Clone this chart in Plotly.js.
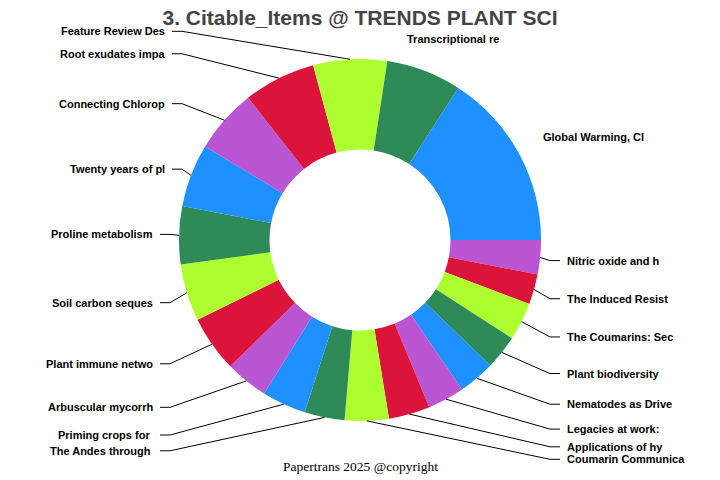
<!DOCTYPE html>
<html><head><meta charset="utf-8">
<script src="https://cdn.plot.ly/plotly-3.0.1.min.js"></script>
<style>html,body{margin:0;padding:0;background:#fff}#chart{width:720px;height:480px}</style>
</head><body><div id="chart"></div>
<script>
// ---- data ----
const titleText = "3. Citable_Items @ TRENDS PLANT SCI";
const footerText = "Papertrans 2025 @copyright";
const labels = ["Nitric oxide and h","The Induced Resist","The Coumarins: Sec","Plant biodiversity",
  "Nematodes as Drive","Legacies at work: ","Applications of hy","Coumarin Communica",
  "The Andes through ","Priming crops for ","Arbuscular mycorrh","Plant immune netwo",
  "Soil carbon seques","Proline metabolism","Twenty years of pl","Connecting Chlorop",
  "Root exudates impa","Feature Review Des","Transcriptional re","Global Warming, Cl"];
const values = [11.0,9.7,12.2,11.0,11.8,11.8,13.3,14.1,12.9,14.2,13.8,18.1,18.3,18.6,20.3,20.7,23.2,23.7,24.2,57.1];
const palette = ["#BA55D3","#DC143C","#ADFF2F","#2E8B57","#1E90FF"];

// ---- layout constants ----
const W = 720, H = 480;
const domY = [59/480, 421/480];
const cx = W/2, cy = H/2, R = (domY[1]-domY[0])*H/2;
const startDeg = 90;
const RL = 215;           // label radius
const labelFont = 'Liberation Sans, Arial, sans-serif';
const labelSize = 11;

const colors = labels.map((_, i) => palette[i % palette.length]);
const shown = labels.map(s => s.replace(/\s+$/, '\u00a0'));

// text widths
const cnv = document.createElement('canvas').getContext('2d');
cnv.font = 'bold ' + labelSize + 'px "Liberation Sans", Arial, sans-serif';

const total = values.reduce((a, b) => a + b, 0);
let cum = 0;
const pts = values.map((v, i) => {
  const a0 = cum; cum += v / total * 360;
  const mid = (startDeg + (a0 + cum) / 2) * Math.PI / 180;
  const s = Math.sin(mid), c = Math.cos(mid);
  return {i, s, c, ex: cx + R*s, ey: cy - R*c, nx: cx + RL*s, ny: cy - RL*c,
          side: s >= 0 ? 1 : -1, free: (s > 0 && c > 0.05), w: cnv.measureText(shown[i]).width};
});

// vertical positions for leader-line labels
pts.forEach(p => { p.y = p.ny + ((!p.free && p.c > 0.2 && p.side < 0) ? 6 : 0); });
[1, -1].forEach(side => {
  const group = pts.filter(p => p.side === side && !p.free).sort((a, b) => a.y - b.y);
  for (let k = 1; k < group.length; k++) group[k].y = Math.max(group[k].y, group[k-1].y + 12.5);
});

const px = x => x / W, py = y => 1 - y / H;
const annotations = [], shapes = [];
pts.forEach(p => {
  if (p.free) {
    annotations.push({xref:'paper', yref:'paper', x: px(p.nx + p.w/2*p.s), y: py(p.ny),
      xanchor:'center', yanchor:'middle', showarrow:false, borderpad:0,
      text:'<b>' + shown[p.i] + '</b>', font:{family:labelFont, size:labelSize, color:'#000'}});
  } else {
    const E = (p.c > 0.2) ? 178 : 190;
    const elbow = cx + p.side*E, end = cx + p.side*(E + 10), tx = cx + p.side*(E + 16);
    shapes.push({type:'path', xref:'paper', yref:'paper',
      path: 'M' + px(p.ex) + ',' + py(p.ey) + ' L' + px(elbow) + ',' + py(p.y) + ' L' + px(end) + ',' + py(p.y),
      line:{color:'#000', width:1}});
    annotations.push({xref:'paper', yref:'paper', x: px(tx), y: py(p.y),
      xanchor: p.side > 0 ? 'left' : 'right', yanchor:'middle', showarrow:false, borderpad:0,
      text:'<b>' + shown[p.i] + '</b>', font:{family:labelFont, size:labelSize, color:'#000'}});
  }
});
annotations.push({xref:'paper', yref:'paper', x:0.5, y: py(466), xanchor:'center', yanchor:'middle',
  showarrow:false, borderpad:0, text: footerText,
  font:{family:'Liberation Serif, Times New Roman, serif', size:13.5, color:'#000'}});

const trace = {type:'pie', labels: labels, values: values, sort:false, direction:'clockwise',
  rotation: startDeg, hole:0.5, textinfo:'none', hoverinfo:'none',
  marker:{colors: colors, line:{width:0}}, domain:{x:[0,1], y:domY}};

const layout = {width:W, height:H, margin:{l:0, r:0, t:0, b:0}, showlegend:false,
  paper_bgcolor:'#fff', plot_bgcolor:'#fff',
  title:{text:'<b>' + titleText + '</b>', x:0.5, xanchor:'center', y: 1 - 17.5/H, yref:'container', yanchor:'middle',
    font:{family:labelFont, size:21, color:'#444'}},
  annotations: annotations, shapes: shapes};

Plotly.newPlot('chart', [trace], layout, {staticPlot:true, displayModeBar:false});
</script></body></html>
